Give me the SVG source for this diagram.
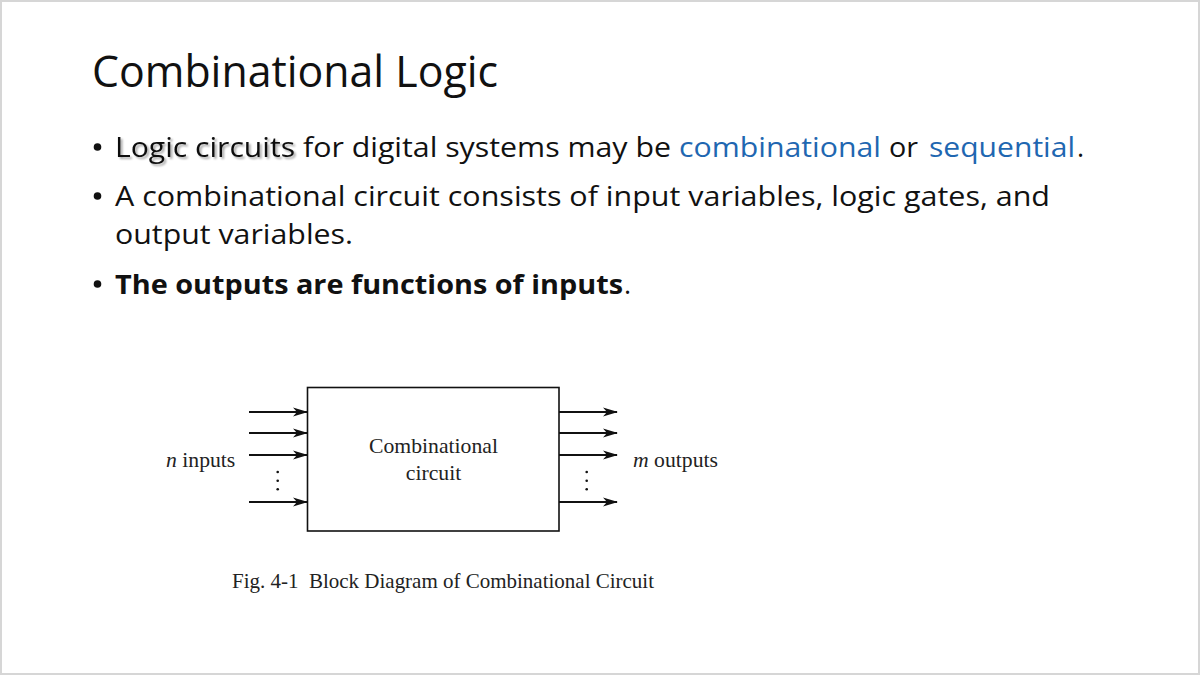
<svg xmlns="http://www.w3.org/2000/svg" width="1200" height="675" viewBox="0 0 1200 675">
<defs>
<style>
.t{font-family:"Open Sans","Noto Sans","Liberation Sans",sans-serif;fill:#111;}
.b{font-size:27px;}
.bl{fill:#1f67b1;}
.bold{font-weight:bold;}
.tm{font-family:"Liberation Serif","Times New Roman",serif;fill:#222;font-size:21.7px;}
.arr{stroke:#111;stroke-width:1.8;fill:none;marker-end:url(#ah);}
.dot{fill:#111;}
</style>
<marker id="ah" viewBox="0 0 15 10" refX="14" refY="5" markerWidth="15" markerHeight="10" markerUnits="userSpaceOnUse" orient="auto">
<path d="M0,0.5 L15,5 L0,9.5 L4,5 Z" fill="#111"/>
</marker>
<filter id="sh" x="-5%" y="-20%" width="110%" height="140%">
<feGaussianBlur in="SourceAlpha" stdDeviation="1"/>
<feOffset dx="1.5" dy="1.5" result="o"/>
<feComponentTransfer><feFuncA type="linear" slope="0.35"/></feComponentTransfer>
<feMerge><feMergeNode/><feMergeNode in="SourceGraphic"/></feMerge>
</filter>
</defs>
<rect x="0" y="0" width="1200" height="675" fill="#ffffff"/>
<rect x="1" y="1" width="1198" height="673" fill="none" stroke="#d6d6d6" stroke-width="2"/>

<g id="title">
<text class="t" x="92" y="87" font-size="44" textLength="406" lengthAdjust="spacingAndGlyphs" fill="#1a1a1a">Combinational Logic</text>
</g>

<g id="bullets">
<g id="bullet1">
<circle cx="97.5" cy="147" r="3.8" fill="#111"/>
<text class="t b" x="115" y="157" textLength="180" lengthAdjust="spacingAndGlyphs" filter="url(#sh)">Logic circuits</text>
<text class="t b" x="303" y="157" textLength="368" lengthAdjust="spacingAndGlyphs">for digital systems may be</text>
<text class="t b bl" x="679" y="157" textLength="202" lengthAdjust="spacingAndGlyphs">combinational</text>
<text class="t b" x="889" y="157" textLength="29" lengthAdjust="spacingAndGlyphs">or</text>
<text class="t b bl" x="929" y="157" textLength="146" lengthAdjust="spacingAndGlyphs">sequential</text>
<text class="t b" x="1077" y="157">.</text>
</g>
<g id="bullet2">
<circle cx="97.5" cy="196" r="3.8" fill="#111"/>
<text class="t b" x="115" y="206" textLength="935" lengthAdjust="spacingAndGlyphs">A combinational circuit consists of input variables, logic gates, and</text>
<text class="t b" x="115" y="244" textLength="238" lengthAdjust="spacingAndGlyphs">output variables.</text>
</g>
<g id="bullet3">
<circle cx="97.5" cy="284" r="3.8" fill="#111"/>
<text class="t b bold" x="115" y="294" textLength="508" lengthAdjust="spacingAndGlyphs">The outputs are functions of inputs</text>
<text class="t b" x="624" y="294">.</text>
</g>
</g>

<g id="block">
<rect x="307.5" y="387.5" width="251.5" height="143.5" fill="#fff" stroke="#111" stroke-width="1.6"/>
<text class="tm" x="433.5" y="453" text-anchor="middle">Combinational</text>
<text class="tm" x="433.5" y="480" text-anchor="middle">circuit</text>
</g>

<g id="inputs-label">
<text class="tm" x="166" y="467"><tspan font-style="italic">n</tspan> inputs</text>
</g>
<g id="outputs-label">
<text class="tm" x="633" y="467"><tspan font-style="italic">m</tspan> outputs</text>
</g>

<g id="connectors">
<line class="arr" x1="249" y1="412" x2="307" y2="412"/>
<line class="arr" x1="249" y1="433" x2="307" y2="433"/>
<line class="arr" x1="249" y1="455" x2="307" y2="455"/>
<line class="arr" x1="249" y1="502" x2="307" y2="502"/>
<line class="arr" x1="559" y1="412" x2="617" y2="412"/>
<line class="arr" x1="559" y1="433" x2="617" y2="433"/>
<line class="arr" x1="559" y1="455" x2="617" y2="455"/>
<line class="arr" x1="559" y1="502" x2="617" y2="502"/>
<circle class="dot" cx="277.7" cy="472" r="1.3"/>
<circle class="dot" cx="277.7" cy="480.7" r="1.3"/>
<circle class="dot" cx="277.7" cy="489.3" r="1.3"/>
<circle class="dot" cx="586.7" cy="472" r="1.3"/>
<circle class="dot" cx="586.7" cy="480.7" r="1.3"/>
<circle class="dot" cx="586.7" cy="489.3" r="1.3"/>
</g>

<g id="caption">
<text class="tm" x="232" y="588" font-size="20" textLength="422" lengthAdjust="spacingAndGlyphs" xml:space="preserve">Fig. 4-1  Block Diagram of Combinational Circuit</text>
</g>
</svg>
